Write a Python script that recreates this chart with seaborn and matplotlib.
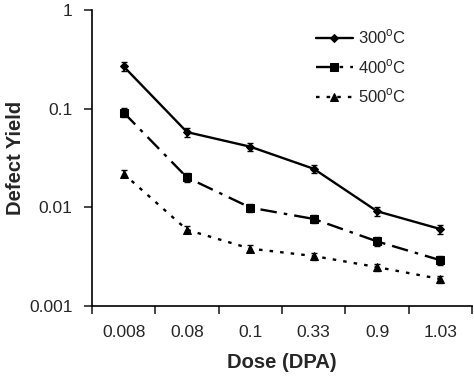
import numpy as np
import pandas as pd
import seaborn as sns
import matplotlib.pyplot as plt
from matplotlib.ticker import FixedLocator, NullLocator

dose_labels = ["0.008", "0.08", "0.1", "0.33", "0.9", "1.03"]
temps = ["300", "400", "500"]
yield_300 = [0.267, 0.0577, 0.041, 0.0245, 0.0091, 0.0060]
yield_400 = [0.091, 0.0200, 0.0099, 0.0076, 0.0045, 0.0029]
yield_500 = [0.0218, 0.0059, 0.0038, 0.0032, 0.00247, 0.00187]
err_frac = [0.10, 0.10, 0.08]  # relative error bar size

sns.set_theme(style="ticks")
plt.rcParams['font.family'] = ['Liberation Sans', 'DejaVu Sans']

rows = []
for t, vals in zip(temps, [yield_300, yield_400, yield_500]):
    for i, (lab, v) in enumerate(zip(dose_labels, vals)):
        rows.append({"pos": i, "dose": lab, "temp": t, "yield": v})
df = pd.DataFrame(rows)

styles = {
    "300": dict(ls="-", marker="D", ms=4.5),
    "400": dict(ls=(0, (7, 3, 1.5, 3)), marker="s", ms=6),
    "500": dict(ls=(0, (1.5, 3)), marker="^", ms=6),
}

fig = plt.figure(figsize=(4.74, 3.79), dpi=100)
ax = fig.add_axes([0.194, 0.193, 0.802, 0.781])

for t, ef in zip(temps, err_frac):
    sub = df[df["temp"] == t]
    st = styles[t]
    sns.lineplot(data=sub, x="pos", y="yield", ax=ax, color="black",
                 linewidth=1.7, linestyle=st["ls"], marker=st["marker"],
                 markersize=st["ms"], markeredgecolor="black",
                 label=f"{t}$^{{\\mathregular{{o}}}}$C", sort=False)
    ax.errorbar(sub["pos"], sub["yield"], yerr=sub["yield"] * ef,
                fmt="none", ecolor="black", elinewidth=1.2, capsize=2.5)

ax.set_yscale("log")
ax.set_ylim(0.001, 1)
ax.set_xlim(-0.5, len(dose_labels) - 0.5)
ax.yaxis.set_major_locator(FixedLocator([0.001, 0.01, 0.1, 1]))
ax.yaxis.set_minor_locator(NullLocator())
ax.set_yticklabels(["0.001", "0.01", "0.1", "1"])

ax.xaxis.set_major_locator(FixedLocator(np.arange(-0.5, len(dose_labels), 1.0)))
ax.xaxis.set_major_formatter(plt.NullFormatter())
ax.set_xticks(np.arange(len(dose_labels)), labels=dose_labels, minor=True)
ax.tick_params(axis="x", which="minor", length=0, pad=14, labelsize=12.5)
ax.tick_params(axis="x", which="major", length=6, width=1.2, direction="out")
ax.tick_params(axis="y", which="major", length=6, width=1.2, direction="out",
               labelsize=12.5, pad=8)

sns.despine(ax=ax)
for s in ["left", "bottom"]:
    ax.spines[s].set_linewidth(1.2)
    ax.spines[s].set_color("black")

ax.set_xlabel("Dose (DPA)", fontsize=14.5, fontweight="bold", labelpad=9)
ax.set_ylabel("Defect Yield", fontsize=14.5, fontweight="bold", labelpad=3)

leg = ax.legend(loc="upper right", bbox_to_anchor=(0.865, 0.99), frameon=False,
                fontsize=12, handlelength=2.2, labelspacing=0.65,
                handletextpad=0.3)

fig.savefig("out.png", dpi=100)
